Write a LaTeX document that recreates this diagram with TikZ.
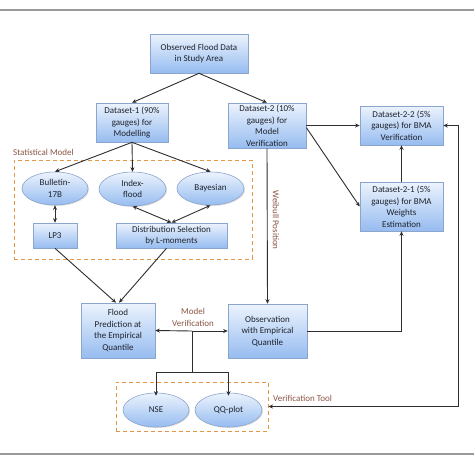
\documentclass[tikz,border=0pt]{standalone}
\usepackage{fontspec}
\setmainfont{Carlito}
\usetikzlibrary{arrows.meta,shapes.geometric,shadows,shadings}
\definecolor{labc}{RGB}{140,85,70}
\definecolor{dashc}{RGB}{228,150,70}
\definecolor{boxtop}{RGB}{236,243,253}
\definecolor{boxbot}{RGB}{150,188,240}
\definecolor{boxline}{RGB}{140,165,205}
\definecolor{linec}{RGB}{45,45,50}
\definecolor{txtc}{RGB}{30,35,45}
\tikzset{
  base/.style={draw=boxline, line width=0.6pt, top color=boxtop, bottom color=boxbot,
    drop shadow={shadow xshift=1pt, shadow yshift=-1pt, opacity=0.25},
    align=center, font=\fontsize{9}{11.5}\selectfont, text=txtc, inner sep=1pt},
  rbox/.style={base, rectangle},
  ebox/.style={base, ellipse},
  arr/.style={-{Stealth[length=4.5pt,width=4pt]}, line width=0.9pt, draw=linec},
  darr/.style={{Stealth[length=4.5pt,width=4pt]}-{Stealth[length=4.5pt,width=4pt]}, line width=0.9pt, draw=linec},
  ln/.style={line width=0.9pt, draw=linec},
  dashbox/.style={draw=dashc, line width=1pt, dash pattern=on 4pt off 3pt, rectangle, inner sep=0pt},
  lab/.style={text=labc, font=\fontsize{9}{11.5}\selectfont, align=center, inner sep=0pt}
}
\begin{document}
\begin{tikzpicture}[x=1pt,y=-1pt]
\useasboundingbox (0,0) rectangle (474,474);
\fill[white] (0,0) rectangle (474,474);
\draw[gray!80, line width=1.2pt] (0,10) -- (474,10);
\draw[gray!80, line width=1.2pt] (0,454) -- (474,454);

% dashed group boxes
\node[dashbox, minimum width=238, minimum height=99] (smbox) at (133,209.5) {};
\node[dashbox, minimum width=152, minimum height=49] (vbox) at (192,406.5) {};
\node[lab, anchor=west] (smlab) at (13,152) {Statistical Model};
\node[lab, anchor=west] (vtlab) at (273,398) {Verification Tool};

% nodes
\node[rbox, minimum width=98, minimum height=39] (obs) at (199,53.5) {Observed Flood Data\\in Study Area};
\node[rbox, minimum width=72, minimum height=39] (d1) at (132,122.5) {Dataset-1 (90\%\\gauges) for\\Modelling};
\node[rbox, minimum width=78, minimum height=45] (d2) at (267,125.5) {Dataset-2 (10\%\\gauges) for\\Model\\Verification};
\node[rbox, minimum width=83, minimum height=39] (d22) at (401.5,125.5) {Dataset-2-2 (5\%\\gauges) for BMA\\Verification};
\node[rbox, minimum width=83, minimum height=49] (d21) at (401.5,206.5) {Dataset-2-1 (5\%\\gauges) for BMA\\Weights\\Estimation};
\node[ebox, minimum width=66, minimum height=33] (b17) at (55,188.5) {Bulletin-\\17B};
\node[ebox, minimum width=67, minimum height=34] (idx) at (132.5,189) {Index-\\flood};
\node[ebox, minimum width=67, minimum height=33] (bay) at (210.5,188.5) {Bayesian};
\node[rbox, minimum width=44, minimum height=25] (lp3) at (55,235.5) {LP3};
\node[rbox, minimum width=111, minimum height=25] (dsel) at (171.5,235.5) {Distribution Selection\\by L-moments};
\node[rbox, minimum width=74, minimum height=55] (fp) at (118,330.5) {Flood\\Prediction at\\the Empirical\\Quantile};
\node[rbox, minimum width=79, minimum height=54] (ob) at (267.5,331) {Observation\\with Empirical\\Quantile};
\node[ebox, minimum width=66, minimum height=34] (nse) at (156,410) {NSE};
\node[ebox, minimum width=67, minimum height=34] (qq) at (228.5,410) {QQ-plot};

\node[lab] (mvlab) at (193,317.5) {Model\\Verification};
\node[lab, rotate=-90] (wblab) at (276,220) {Weibull Position};

% connectors
\draw[arr] (obs.south) -- (d1.north);
\draw[arr] (obs.south) -- (d2.north);
\draw[arr] (d1.south) -- (b17.north);
\draw[arr] (d1.south) -- (idx.north);
\draw[arr] (d1.south) -- (bay.north);
\draw[darr] (b17.south) -- (lp3.north);
\draw[darr] (idx.south) -- (dsel.north);
\draw[darr] (bay.south) -- (dsel.north);
\draw[arr] (lp3.south) -- ([xshift=-2pt]fp.north);
\draw[arr] ([xshift=-5pt]dsel.south) -- ([xshift=1pt]fp.north);
\draw[arr] (d2.south) -- (ob.north);
\draw[arr] (d2.east) -- (d22.west);
\draw[arr] ([yshift=-2pt]d2.east) -- (d21.west);
\draw[arr] (d21.north) -- (d22.south);
\draw[arr] (ob.east) -| (d21.south);

\coordinate (mv) at (192,331);
\coordinate (mvb) at (192,372);
\draw[arr] (mv) -- (fp.east);
\draw[arr] (mv) -- (ob.west);
\draw[ln] (mv) -- (mvb);
\draw[arr] (mvb) -| ([yshift=-3pt]nse.north);
\draw[arr] (mvb) -| ([yshift=-3pt]qq.north);

\coordinate (vc1) at (458,406.5);
\coordinate (vc2) at (458,125.5);
\draw[darr] (vbox.east) -- (vc1) -- (vc2) -- (d22.east);
\end{tikzpicture}
\end{document}
